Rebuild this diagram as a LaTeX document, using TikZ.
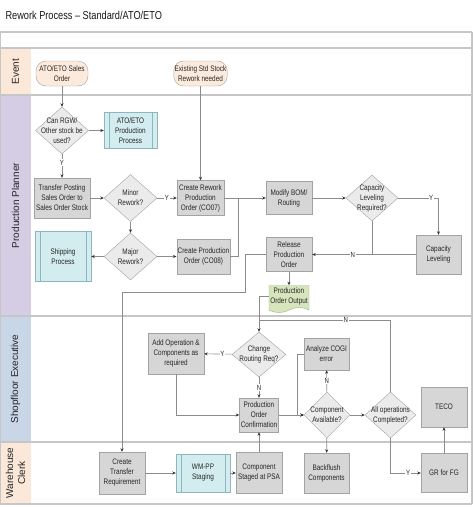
\documentclass[tikz,border=0pt]{standalone}
\usepackage{fontspec}
\setmainfont{Liberation Sans}[FakeStretch=0.8]
\newfontfamily\lanefont{Liberation Sans}
\usetikzlibrary{shapes.geometric,shapes.symbols,arrows.meta}
\definecolor{txtgray}{HTML}{262626}
\definecolor{boxfill}{HTML}{D6D6D6}
\definecolor{boxline}{HTML}{A3A3A3}
\definecolor{diafill}{HTML}{EBEBEB}
\definecolor{procfill}{HTML}{D3ECF0}
\definecolor{procline}{HTML}{8DB6BF}
\definecolor{evfill}{HTML}{FCEBDD}
\definecolor{docfill}{HTML}{D7E5BD}
\definecolor{docline}{HTML}{9AB47A}
\definecolor{linegray}{HTML}{8C8C8C}
\definecolor{lanegray}{HTML}{C6C6C6}
\definecolor{peach}{HTML}{FCE8D8}
\definecolor{lavender}{HTML}{D4CDE3}
\definecolor{paleblue}{HTML}{C8D6E8}

\begin{document}
\begin{tikzpicture}[x=1pt, y=-1pt,
    every node/.style={font=\fontsize{8}{10}\selectfont, text=txtgray, align=center},
    task/.style={rectangle, draw=boxline, fill=boxfill, inner sep=1pt,
        minimum width=46pt, minimum height=35pt},
    dia/.style={diamond, draw=boxline, fill=diafill, inner sep=0pt,
        minimum width=53pt, minimum height=47pt},
    proc/.style={rectangle, draw=procline, fill=procfill, inner sep=1pt,
        path picture={\draw[procline]
            ([xshift=5pt]path picture bounding box.north west) -- ([xshift=5pt]path picture bounding box.south west)
            ([xshift=-5pt]path picture bounding box.north east) -- ([xshift=-5pt]path picture bounding box.south east);}},
    event/.style={rectangle, rounded corners=10pt, draw=boxline, fill=evfill,
        inner sep=1pt, minimum width=52pt, minimum height=25pt},
    doc/.style={tape, tape bend top=none, tape bend bottom=in and out, tape bend height=5pt,
        draw=docline, fill=docfill, inner sep=1pt, minimum width=40pt, minimum height=27pt},
    lanelbl/.style={rotate=90, font={\lanefont\fontsize{10}{12}\selectfont}, text=txtgray},
    laneline/.style={draw=lanegray, line width=1.4pt},
    line/.style={draw=linegray, line width=0.6pt},
    conn/.style={line, -{Stealth[length=3.5pt, width=3pt, color=black!80]}},
    lbl/.style={fill=white, inner sep=0.6pt, font=\fontsize{7.5}{9}\selectfont}
]
    \fill[white] (0,0) rectangle (474,507);
    \useasboundingbox (0,0) rectangle (474,507);

    \fill[peach] (0,48) rectangle (31,95);
    \fill[lavender] (0,95) rectangle (31,316);
    \fill[paleblue] (0,316) rectangle (31,442);
    \fill[peach] (0,442) rectangle (31,504);
    \draw[laneline] (0,32) -- (472,32);
    \draw[laneline] (0,48) -- (472,48);
    \draw[laneline] (0,95) -- (472,95);
    \draw[laneline] (0,316) -- (472,316);
    \draw[laneline] (0,442) -- (472,442);
    \draw[laneline] (0,504) -- (472,504);
    \draw[laneline] (472,32) -- (472,504);
    \draw[laneline] (0.5,32) -- (0.5,504);

    \node[anchor=west, font=\fontsize{11.5}{14}\selectfont, text=black!90] (title) at (2,15) {Rework Process – Standard/ATO/ETO};
    \node[lanelbl] (evlane) at (15.5,71.5) {Event};
    \node[lanelbl] (pplane) at (15.5,205.5) {Production Planner};
    \node[lanelbl] (selane) at (15.5,379) {Shopfloor Executive};
    \node[lanelbl] (wclane) at (15.5,473) {Warehouse\\Clerk};

    \node[event] (so) at (62,73.5) {ATO/ETO Sales\\Order};
    \node[event, minimum width=53pt] (stock) at (200.5,73.5) {Existing Std Stock\\Rework needed};

    \node[dia, label={center:Can RGW/\\Other stock be\\used?}] (rgw) at (62,130.5) {};
    \node[proc, minimum width=53pt, minimum height=36pt] (ato) at (130.5,130.5) {ATO/ETO\\Production\\Process};
    \node[task, minimum width=56pt, minimum height=40pt] (transfer) at (62,198) {Transfer Posting\\Sales Order to\\Sales Order Stock};
    \node[dia, label={center:Minor\\Rework?}] (minor) at (130.5,198) {};
    \node[task, minimum width=47pt] (co07) at (200.5,198) {Create Rework\\Production\\Order (CO07)};
    \node[dia, label={center:Major\\Rework?}] (major) at (130.5,256.5) {};
    \node[proc, minimum width=56pt, minimum height=50pt] (ship) at (63,256.5) {Shipping\\Process};
    \node[task, minimum width=53pt] (co08) at (203.5,256.5) {Create Production\\Order (CO08)};
    \node[task, minimum height=33pt] (modify) at (289,198) {Modify BOM/\\Routing};
    \node[dia, minimum width=52pt, minimum height=46pt, label={center:Capacity\\Leveling\\Required?}] (cap) at (372,198) {};
    \node[task, minimum width=45pt, minimum height=39pt] (caplev) at (438.5,254.5) {Capacity\\Leveling};
    \node[task, minimum height=34pt] (rel) at (289,254.5) {Release\\Production\\Order};
    \node[doc] (output) at (289,296.5) {Production\\Order Output};

    \node[dia, minimum width=54pt, minimum height=45pt, label={center:Change\\Routing Req?}] (change) at (259,354.5) {};
    \node[task, minimum width=56pt, minimum height=41pt] (addop) at (176,353.5) {Add Operation \&\\Components as\\required};
    \node[task, minimum width=39pt, minimum height=34pt] (conf) at (259,415) {Production\\Order\\Confirmation};
    \node[task, minimum width=45pt, minimum height=32pt] (cogi) at (326.5,354) {Analyze COGI\\error};
    \node[dia, minimum width=46pt, minimum height=46pt, label={center:Component\\Available?}] (avail) at (327,415) {};
    \node[dia, minimum width=51pt, minimum height=46pt, label={center:All operations\\Completed?}] (allop) at (390.5,415) {};
    \node[task, minimum height=40pt] (teco) at (444,407) {TECO};

    \node[task, minimum height=42pt] (tr) at (122,473) {Create\\Transfer\\Requirement};
    \node[proc, minimum width=54pt, minimum height=38pt] (wm) at (203,473) {WM-PP\\Staging};
    \node[task, minimum height=41pt] (staged) at (259,473) {Component\\Staged at PSA};
    \node[task, minimum width=45pt, minimum height=40pt] (bf) at (326.5,473) {Backflush\\Components};
    \node[task, minimum height=39pt] (grfg) at (444,473) {GR for FG};

    \coordinate (j1) at (238,198);
    \coordinate (j2) at (245,292);
    \coordinate (j3) at (259,320);

    \draw[conn] (so) -- (rgw);
    \draw[conn] (stock) -- (co07);
    \draw[conn] (rgw) -- (ato);
    \draw[conn] (rgw) -- node[lbl, pos=0.35] {Y} (transfer);
    \draw[conn] (transfer) -- (minor);
    \draw[conn] (minor) -- node[lbl] {Y} (co07);
    \draw[conn] (minor) -- (major);
    \draw[conn] (major) -- (ship);
    \draw[conn] (major) -- (co08);
    \draw[conn] (co07) -- (modify);
    \draw[line] (co08.east) -| (j1);
    \draw[conn] (modify) -- (cap);
    \draw[conn] (cap.east) -| node[lbl, pos=0.41] {Y} (caplev.north);
    \draw[conn] (cap.south) |- node[lbl, pos=0.66] {N} (rel.east);
    \draw[line] (caplev.west) -- (cap.south |- caplev.west);
    \draw[conn] (rel) -- (output);
    \draw[conn] (output.west) -| (change.north);
    \draw[line] (allop.north) |- node[lbl, pos=0.67] {N} (j3);
    \draw[conn] (rel.west) -| (j2) -| (tr.north);
    \draw[conn] (change) -- node[lbl, pos=0.35] {Y} (addop);
    \draw[conn] (change) -- node[lbl] {N} (conf);
    \draw[conn] (addop.south) |- (conf.west);
    \draw[conn] (conf) -- (avail);
    \draw[conn] (cogi.west) -- ++(-7,0) |- (avail.west);
    \draw[conn] (avail) -- node[lbl] {N} (cogi);
    \draw[conn] (avail) -- (bf);
    \draw[conn] (avail) -- (allop);
    \draw[conn] (allop.south) |- node[lbl, pos=0.79] {Y} (grfg.west);
    \draw[conn] (grfg) -- (teco);
    \draw[conn] (tr) -- (wm);
    \draw[conn] (wm) -- (staged);
    \draw[conn] (staged) -- (conf);
\end{tikzpicture}
\end{document}
